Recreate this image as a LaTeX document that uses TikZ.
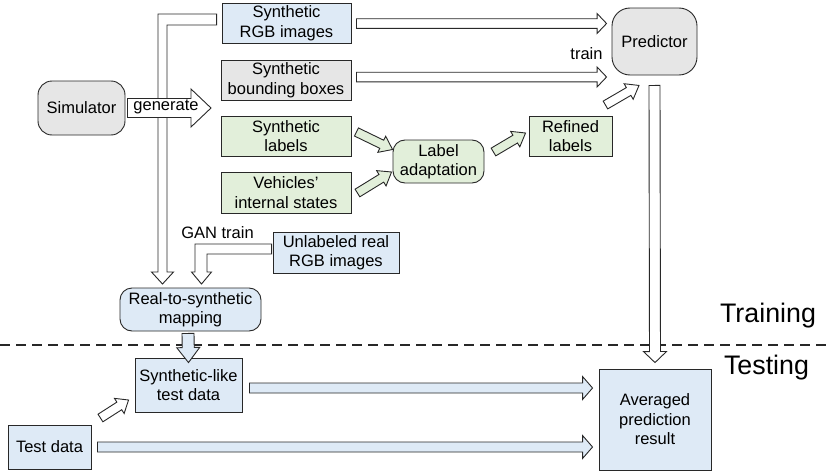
\documentclass[tikz,border=0pt]{standalone}
\usepackage{fontspec}
\setmainfont{Liberation Sans}
\usetikzlibrary{calc}
\definecolor{cblue}{RGB}{222,234,246}
\definecolor{cgreen}{RGB}{226,239,218}
\definecolor{cgray}{RGB}{230,230,230}
\definecolor{cline}{RGB}{40,40,40}
\tikzset{
  box/.style={draw=cline, line width=0.9pt, inner sep=0pt, align=center,
    font=\fontsize{16.5}{19.5}\selectfont},
  rbox/.style={box, rounded corners=12pt},
  arrowline/.style={draw=cline, line width=0.9pt, line join=miter},
  lbl/.style={inner sep=0pt, font=\fontsize{16.5}{19.5}\selectfont},
  biglbl/.style={inner sep=0pt, font=\fontsize{26.8}{30}\selectfont},
}
% fat block arrow: [fill]{start}{end}{body half width}{head half width}{head length}
\newcommand\fatarrow[6][white]{%
  \coordinate (fs) at (#2); \coordinate (fe) at (#3);
  \filldraw[arrowline, fill=#1]
    ($(fs)!#4!90:(fe)$) -- ($(fe)!#6!(fs)!#4!-90:(fs)$) --
    ($(fe)!#6!(fs)!#5!-90:(fs)$) -- (fe) --
    ($(fe)!#6!(fs)!#5!90:(fs)$) -- ($(fe)!#6!(fs)!#4!90:(fs)$) --
    ($(fs)!#4!-90:(fe)$) -- cycle;
}
\begin{document}
\begin{tikzpicture}[x=1pt, y=-1pt]
\useasboundingbox (0,0) rectangle (828,471);
\fill[white] (0,0) rectangle (828,471);

% separator
\draw[cline, line width=1.3pt, dash pattern=on 10pt off 6pt] (0,345) -- (828,345);

% nodes
\node[box, fill=cblue, minimum width=129pt, minimum height=40pt] (rgb) at (286.5,23) {Synthetic\\RGB images};
\node[box, fill=cgray, minimum width=130pt, minimum height=40pt] (bbox) at (286,80) {Synthetic\\bounding boxes};
\node[box, fill=cgreen, minimum width=130pt, minimum height=40pt] (slab) at (286,136) {Synthetic\\labels};
\node[box, fill=cgreen, minimum width=130pt, minimum height=41pt] (veh) at (286,192.5) {Vehicles’\\internal states};
\node[rbox, fill=cgray, rounded corners=14pt, minimum width=87pt, minimum height=54pt] (sim) at (81.5,108) {Simulator};
\node[rbox, fill=cgreen, minimum width=91pt, minimum height=43pt] (la) at (438.5,161.5) {Label\\adaptation};
\node[box, fill=cgreen, minimum width=83pt, minimum height=40pt] (ref) at (570.5,136) {Refined\\labels};
\node[rbox, fill=cgray, rounded corners=18pt, minimum width=85pt, minimum height=67pt] (pred) at (654.5,41.5) {Predictor};
\node[box, fill=cblue, minimum width=126pt, minimum height=41pt] (unl) at (336,252.5) {Unlabeled real\\RGB images};
\node[rbox, fill=cblue, minimum width=141pt, minimum height=43pt] (map) at (190.5,309.5) {Real-to-synthetic\\mapping};
\node[box, fill=cblue, minimum width=107pt, minimum height=54pt] (sl) at (188.5,385) {Synthetic-like\\test data};
\node[box, fill=cblue, minimum width=83pt, minimum height=44pt] (td) at (49.5,447) {Test data};
\node[box, fill=cblue, minimum width=112pt, minimum height=101pt] (avg) at (655,419.5) {Averaged\\prediction\\result};

% labels
\node[lbl, anchor=base] (trainlbl) at (586.5,59) {train};
\node[lbl, anchor=base] (ganlbl) at (217.5,238) {GAN train};
\node[biglbl, anchor=base] (training) at (768,322) {Training};
\node[biglbl, anchor=base] (testing) at (766.5,374) {Testing};

% bent arrows into mapping
\filldraw[arrowline, fill=white] ($(rgb.west)+(-5,-9)$) coordinate (b1) -- (158,14) -- (158,272) -- (151.5,272) -- (162.5,284) -- (173.5,272) -- (167,272) -- (167,25) -- ($(rgb.west)+(-5,2)$) -- cycle;
\filldraw[arrowline, fill=white] ($(unl.west)+(-1,-8.5)$) coordinate (b2) -- (195,244) -- (195,272) -- (191.5,272) -- (201.5,284) -- (211.5,272) -- (207,272) -- (207,254) -- ($(unl.west)+(-1,1.5)$) -- cycle;

% generate arrow
\fatarrow{$(sim.east)+(2,0)$}{211,108}{9.5pt}{19pt}{20pt}
\node[lbl] (gen) at (166,107) {generate};

% to predictor
\fatarrow{$(rgb.east)+(5,0.5)$}{$(pred.west)+(-5,-18)$}{4.8pt}{10pt}{9.5pt}
\fatarrow{$(bbox.east)+(5,-3)$}{$(pred.west)+(-5,35.5)$}{4.8pt}{10pt}{9.5pt}

% to label adaptation
\fatarrow[cgreen]{$(slab.east)+(5,-4)$}{$(la.west)+(0,-12)$}{4.5pt}{9pt}{12pt}
\fatarrow[cgreen]{$(veh.east)+(6,0.5)$}{$(la.west)+(-1,10.5)$}{4.5pt}{9pt}{12pt}
\fatarrow[cgreen]{$(la.east)+(9,-9.5)$}{$(ref.west)+(-3,-3)$}{4.5pt}{9pt}{12pt}
\fatarrow{$(ref.east)+(-7,-31)$}{$(pred.south)+(-15.5,10)$}{4.5pt}{9pt}{12pt}

% predictor to averaged
\fatarrow{$(pred.south)+(0,10)$}{$(avg.north)+(0,-6)$}{5.5pt}{11.5pt}{11pt}

% testing arrows
\fatarrow[cblue]{$(map.south)+(-2.5,2)$}{$(sl.north)+(0,5)$}{6pt}{11.5pt}{15pt}
\fatarrow{$(td.east)+(9,-29)$}{$(sl.west)+(-6,15)$}{4.5pt}{9pt}{11pt}
\fatarrow[cblue]{$(sl.east)+(7,3)$}{$(avg.west)+(-6,-31.5)$}{5pt}{11.5pt}{10pt}
\fatarrow[cblue]{$(td.east)+(6,0)$}{$(avg.west)+(-6,27.5)$}{5pt}{11.5pt}{10pt}
\end{tikzpicture}
\end{document}
